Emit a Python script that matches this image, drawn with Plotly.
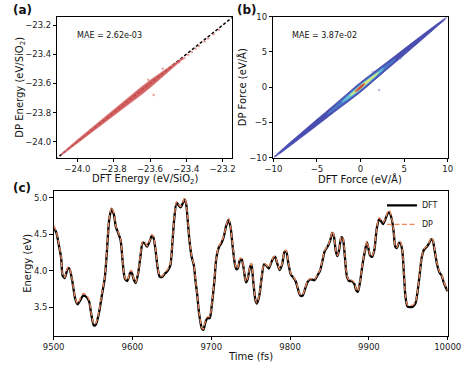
import plotly.graph_objects as go

# ---------------- data ----------------
# (a) energy parity: band of points (centre offset / half-width in eV/SiO2)
a_band_x = [-24.09, -24.05, -24.00, -23.90, -23.80, -23.70, -23.65, -23.60, -23.55, -23.50, -23.45, -23.42]
a_band_off = [0.000, 0.000, 0.000, 0.000, 0.000, -0.002, -0.003, -0.004, -0.005, -0.006, -0.007, -0.008]
a_band_hw = [0.004, 0.009, 0.012, 0.015, 0.019, 0.023, 0.025, 0.024, 0.020, 0.014, 0.008, 0.004]
a_pts_x = [-23.44, -23.42, -23.41, -23.39, -23.37, -23.35, -23.33, -23.30, -23.28, -23.25, -23.22, -23.58, -23.53, -23.61]
a_pts_y = [-23.455, -23.430, -23.425, -23.405, -23.385, -23.362, -23.343, -23.312, -23.292, -23.262, -23.232, -23.68, -23.50, -23.575]
a_diag = [-24.12, -23.14]
a_ticks = [-24.0, -23.8, -23.6, -23.4, -23.2]
a_ticktext = ["\u221224.0", "\u221223.8", "\u221223.6", "\u221223.4", "\u221223.2"]
mae_a = "MAE = 2.62e-03"

# (b) force parity: density layers (x, half-width in eV/Å)
b_l1_x = [-9.9, -9.0, -7.0, -5.0, -3.0, -1.5, 0.0, 1.5, 3.0, 5.0, 7.0, 9.0, 9.7]
b_l1_hw = [0.05, 0.18, 0.32, 0.44, 0.52, 0.62, 0.70, 0.62, 0.52, 0.44, 0.32, 0.16, 0.05]
b_l2_x = [-3.8, -3.0, -2.0, -1.0, 0.0, 1.0, 2.0, 3.0, 4.0]
b_l2_hw = [0.04, 0.20, 0.32, 0.40, 0.46, 0.40, 0.32, 0.20, 0.04]
b_l3_x = [-2.1, -1.5, -0.8, 0.0, 0.8, 1.6, 2.6]
b_l3_hw = [0.03, 0.20, 0.28, 0.32, 0.28, 0.20, 0.03]
b_l4_x = [-1.2, -0.6, 0.0, 0.8, 1.4, 2.0]
b_l4_hw = [0.03, 0.16, 0.22, 0.18, 0.12, 0.03]
b_l5_x = [-0.6, -0.3, 0.0, 0.25, 0.45]
b_l5_hw = [0.03, 0.13, 0.17, 0.12, 0.03]
b_colors = ["#4a4db0", "#4a78c6", "#62c6d6", "#d9e77e", "#d8453c"]
b_pts_x = [2.13, 1.41, -9.8, -9.5, 9.5, 9.8, 4.6]
b_pts_y = [-0.39, 2.14, -9.75, -9.45, 9.5, 9.82, 4.1]
b_ticks = [-10, -5, 0, 5, 10]
b_ticktext = ["\u221210", "\u22125", "0", "5", "10"]
mae_b = "MAE = 3.87e-02"

# (c) energy vs time
time_fs = [9500, 9503.5, 9507, 9509.5, 9511.5, 9514, 9518, 9520, 9523.5, 9527.5, 9530.5, 9533.5, 9537.5, 9541.5,
           9545, 9548, 9551, 9553.5, 9557.5, 9561.5, 9565, 9567.5, 9570.5, 9573.5, 9576.5, 9579, 9581.5, 9585,
           9587.5, 9590.5, 9593.5, 9597, 9598.5, 9602, 9604, 9607, 9610, 9613, 9616, 9618.5, 9622, 9624.5,
           9626.5, 9629, 9632, 9634.5, 9638, 9641, 9644, 9648, 9650.5, 9653, 9656, 9658.5, 9661, 9664, 9666,
           9668, 9670, 9672.5, 9675, 9678, 9680, 9682, 9684.5, 9688, 9690, 9692.5, 9695, 9698, 9700.5, 9704,
           9706.5, 9710, 9713, 9716, 9719, 9722, 9724.5, 9727, 9730, 9732, 9734, 9736.5, 9738.5, 9741, 9744,
           9746, 9749, 9751, 9753, 9756, 9758, 9761, 9764, 9767, 9770, 9773, 9776, 9779, 9781, 9784, 9787,
           9790, 9793, 9795, 9798, 9801, 9804, 9807, 9810, 9813, 9816, 9819, 9822, 9825, 9828, 9831, 9834,
           9838, 9841, 9844, 9848, 9851, 9853.5, 9855.5, 9858, 9860, 9862, 9865, 9867, 9869.5, 9872, 9875,
           9878, 9881.5, 9884, 9886, 9889, 9892, 9895, 9897.5, 9899, 9901.5, 9904, 9907, 9910, 9913, 9915.5,
           9918, 9921, 9924, 9926, 9929, 9931.5, 9933.5, 9935.5, 9938, 9940, 9942.5, 9944.5, 9946.5, 9949,
           9952, 9956, 9959, 9961.5, 9964.5, 9967, 9970, 9973.5, 9976.5, 9979, 9981, 9983, 9986.5, 9989.5,
           9992.5, 9995, 9998.5, 10000]
e_dft = [4.60, 4.52, 4.33, 4.18, 3.93, 3.90, 4.03, 4.03, 3.87, 3.61, 3.54, 3.59, 3.66, 3.64,
         3.58, 3.39, 3.25, 3.26, 3.42, 3.68, 3.91, 4.25, 4.70, 4.85, 4.77, 4.60, 4.53, 4.42,
         4.14, 3.89, 3.86, 3.97, 3.99, 3.87, 3.83, 3.95, 4.18, 4.39, 4.37, 4.33, 4.41, 4.48,
         4.46, 4.31, 4.04, 3.92, 3.92, 3.96, 3.99, 4.07, 4.35, 4.71, 4.93, 4.90, 4.87, 4.93, 4.98,
         4.93, 4.71, 4.40, 4.20, 4.07, 3.86, 3.69, 3.42, 3.21, 3.19, 3.29, 3.35, 3.35, 3.51, 3.86,
         4.18, 4.33, 4.38, 4.47, 4.62, 4.70, 4.60, 4.35, 4.09, 4.02, 4.04, 4.15, 4.16, 4.04, 3.84,
         3.88, 4.04, 4.09, 3.89, 3.60, 3.55, 3.66, 3.91, 4.09, 4.07, 4.03, 4.11, 4.18, 4.19, 4.09, 4.01,
         4.09, 4.26, 4.27, 4.09, 3.95, 3.91, 3.86, 3.75, 3.66, 3.66, 3.75, 3.84, 3.88, 3.88, 3.87, 3.92,
         4.00, 4.13, 4.27, 4.34, 4.42, 4.52, 4.48, 4.27, 4.20, 4.27, 4.46, 4.44, 4.20, 3.93, 3.86,
         3.86, 3.82, 3.73, 3.71, 3.86, 4.09, 4.27, 4.39, 4.33, 4.21, 4.19, 4.29, 4.58, 4.71, 4.68,
         4.64, 4.71, 4.79, 4.80, 4.71, 4.53, 4.33, 4.31, 4.38, 4.38, 4.27, 3.95, 3.64, 3.51,
         3.50, 3.51, 3.55, 3.69, 3.95, 4.18, 4.29, 4.33, 4.38, 4.43, 4.42, 4.31, 4.09, 3.98,
         3.93, 3.84, 3.75, 3.72]
e_dp = [4.62, 4.53, 4.34, 4.19, 3.94, 3.91, 4.05, 4.04, 3.88, 3.62, 3.55, 3.61, 3.69, 3.67,
        3.60, 3.40, 3.27, 3.28, 3.44, 3.70, 3.92, 4.27, 4.72, 4.87, 4.79, 4.61, 4.54, 4.43,
        4.15, 3.90, 3.87, 3.99, 4.01, 3.88, 3.84, 3.96, 4.20, 4.40, 4.39, 4.34, 4.42, 4.50,
        4.47, 4.32, 4.05, 3.93, 3.93, 3.98, 4.01, 4.09, 4.36, 4.72, 4.95, 4.91, 4.88, 4.94, 5.00,
        4.94, 4.72, 4.41, 4.21, 4.08, 3.87, 3.70, 3.43, 3.22, 3.20, 3.31, 3.37, 3.37, 3.52, 3.87,
        4.19, 4.35, 4.40, 4.48, 4.63, 4.72, 4.61, 4.36, 4.10, 4.03, 4.05, 4.17, 4.17, 4.05, 3.85,
        3.89, 4.05, 4.10, 3.90, 3.61, 3.56, 3.67, 3.92, 4.10, 4.08, 4.04, 4.12, 4.19, 4.20, 4.10, 4.02,
        4.10, 4.27, 4.28, 4.10, 3.96, 3.92, 3.87, 3.76, 3.67, 3.67, 3.76, 3.85, 3.89, 3.89, 3.88, 3.93,
        4.01, 4.14, 4.28, 4.35, 4.43, 4.54, 4.49, 4.28, 4.21, 4.28, 4.47, 4.45, 4.21, 3.94, 3.87,
        3.87, 3.84, 3.74, 3.72, 3.87, 4.10, 4.28, 4.41, 4.34, 4.22, 4.20, 4.30, 4.59, 4.73, 4.70,
        4.66, 4.72, 4.81, 4.83, 4.72, 4.54, 4.34, 4.32, 4.39, 4.40, 4.28, 3.96, 3.65, 3.53,
        3.52, 3.53, 3.57, 3.70, 3.96, 4.19, 4.30, 4.34, 4.39, 4.45, 4.43, 4.32, 4.10, 3.99,
        3.94, 3.85, 3.76, 3.73]
c_xticks = [9500, 9600, 9700, 9800, 9900, 10000]
c_xticktext = ["9500", "9600", "9700", "9800", "9900", "10000"]
c_yticks = [3.5, 4.0, 4.5, 5.0]

# ---------------- figure ----------------
W, H = 474, 366
FONT = "DejaVu Sans"
fig = go.Figure()


def band(xs, offs, hws):
    up = [x + o + h for x, o, h in zip(xs, offs, hws)]
    lo = [x + o - h for x, o, h in zip(xs, offs, hws)]
    return xs + xs[::-1], up + lo[::-1]


# (a)
fig.add_trace(go.Scatter(x=a_diag, y=a_diag, mode="lines", xaxis="x", yaxis="y",
                         line=dict(color="black", width=1.5, dash="3px,2px"), showlegend=False))
px, py = band(a_band_x, a_band_off, a_band_hw)
fig.add_trace(go.Scatter(x=px, y=py, mode="lines", fill="toself", xaxis="x", yaxis="y",
                         fillcolor="rgba(208,84,84,0.92)", line=dict(color="rgba(214,100,100,0.6)", width=1.2),
                         showlegend=False))
fig.add_trace(go.Scatter(x=a_pts_x, y=a_pts_y, mode="markers", xaxis="x", yaxis="y",
                         marker=dict(color="rgba(215,90,90,0.55)", size=2.5), showlegend=False))

# (b)
layers = [(b_l1_x, b_l1_hw), (b_l2_x, b_l2_hw), (b_l3_x, b_l3_hw), (b_l4_x, b_l4_hw), (b_l5_x, b_l5_hw)]
for (lx, lh), col in zip(layers, b_colors):
    bx, by = band(lx, [0.0] * len(lx), lh)
    fig.add_trace(go.Scatter(x=bx, y=by, mode="lines", fill="toself", xaxis="x2", yaxis="y2",
                             fillcolor=col, line=dict(color=col, width=0.8, shape="spline"),
                             showlegend=False))
fig.add_trace(go.Scatter(x=b_pts_x, y=b_pts_y, mode="markers", xaxis="x2", yaxis="y2",
                         marker=dict(color="rgba(120,120,200,0.5)", size=2.5), showlegend=False))

# (c)
fig.add_trace(go.Scatter(x=time_fs, y=e_dft, mode="lines", name="DFT", xaxis="x3", yaxis="y3",
                         line=dict(color="black", width=2.3, shape="spline", smoothing=0.7)))
fig.add_trace(go.Scatter(x=time_fs, y=e_dp, mode="lines", name="DP", xaxis="x3", yaxis="y3",
                         line=dict(color="#ef8a5c", width=1.3, dash="5px,2.5px", shape="spline", smoothing=0.7)))


def px2x(p):
    return p / W


def px2y(p):
    return (H - p) / H


axis_common = dict(showgrid=False, zeroline=False, showline=True, mirror=True, linecolor="black",
                   linewidth=1, ticks="outside", ticklen=3.5, tickwidth=1, tickcolor="black",
                   tickfont=dict(family=FONT, size=8.5, color="#222"))

fig.update_layout(
    width=W, height=H, margin=dict(l=0, r=0, t=0, b=0),
    paper_bgcolor="white", plot_bgcolor="white",
    font=dict(family=FONT, color="#222"),
    xaxis=dict(domain=[px2x(49), px2x(233)], range=[-24.11, -23.15], anchor="y",
               tickvals=a_ticks, ticktext=a_ticktext, **axis_common),
    yaxis=dict(domain=[px2y(157), px2y(12)], range=[-24.11, -23.142], anchor="x",
               tickvals=a_ticks, ticktext=a_ticktext, **axis_common),
    xaxis2=dict(domain=[px2x(277), px2x(461)], range=[-10, 10], anchor="y2",
                tickvals=b_ticks, ticktext=b_ticktext, **axis_common),
    yaxis2=dict(domain=[px2y(157), px2y(12)], range=[-10, 10], anchor="x2",
                tickvals=b_ticks, ticktext=b_ticktext, **axis_common),
    xaxis3=dict(domain=[px2x(45), px2x(461)], range=[9500, 10000], anchor="y3",
                tickvals=c_xticks, ticktext=c_xticktext, **axis_common),
    yaxis3=dict(domain=[px2y(340), px2y(191.7)], range=[3.109, 5.088], anchor="x3",
                tickvals=c_yticks, ticktext=["3.5", "4.0", "4.5", "5.0"], **axis_common),
    legend=dict(x=px2x(456), y=px2y(191), xanchor="right", yanchor="top",
                bgcolor="rgba(255,255,255,0)", font=dict(family=FONT, size=8, color="#222"),
                itemwidth=30, tracegroupgap=0),
)

ann = []


def label(text, x, y, size=10, bold=False, angle=0, xanchor="center", yanchor="middle"):
    if bold:
        text = "<b>" + text + "</b>"
    ann.append(dict(text=text, x=px2x(x), y=px2y(y), xref="paper", yref="paper", showarrow=False,
                    textangle=angle, xanchor=xanchor, yanchor=yanchor,
                    font=dict(family=FONT, size=size, color="#111")))


label("(a)", 0, 5, size=12, bold=True, xanchor="left")
label("(b)", 236, 5, size=12, bold=True, xanchor="left")
label("(c)", 0, 188, size=12, bold=True, xanchor="left")
label("DP Energy (eV/SiO<sub>2</sub>)", 10, 84.5, angle=-90)
label("DFT Energy (eV/SiO<sub>2</sub>)", 141, 179)
label("DP Force (eV/Å)", 244, 84.5, angle=-90)
label("DFT Force (eV/Å)", 368, 179)
label("Energy (eV)", 18, 266, angle=-90)
label("Time (fs)", 253, 361)
label(mae_a, 68, 31, size=8, xanchor="left")
label(mae_b, 295, 31, size=8, xanchor="left")
fig.update_layout(annotations=ann)

fig.write_html("out.html", config={"displayModeBar": False},
               post_script="document.body.style.margin='0';document.body.style.overflow='hidden';")
